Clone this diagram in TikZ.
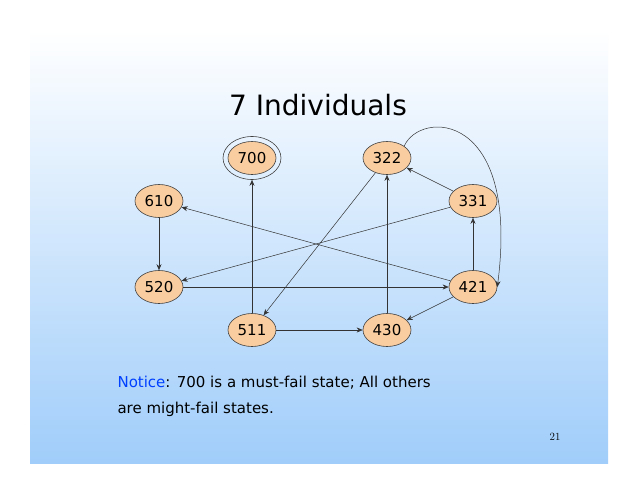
\documentclass[tikz,border=0pt]{standalone}
\usepackage{fontspec}
\setmainfont{DejaVu Sans}
\usetikzlibrary{shapes.geometric,arrows.meta}
\definecolor{bgb}{RGB}{160,205,250}
\definecolor{ncol}{RGB}{250,205,160}
\begin{document}
\begin{tikzpicture}[x=1pt,y=-1pt,
  st/.style={ellipse,draw=black!75,fill=ncol,line width=0.6pt,minimum width=48pt,minimum height=33pt,inner sep=0pt,font=\fontsize{15}{15}\selectfont},
  ar/.style={-{Stealth[length=6pt,width=5pt]},line width=0.5pt,draw=black!80}]
\useasboundingbox (0,0) rectangle (638,493);
\fill[white] (0,0) rectangle (638,493);
\shade[left color=white,right color=bgb,shading angle=0] (30,30) rectangle (608,463);
\node[font=\fontsize{28}{28}\selectfont] (title) at (318,105) {7 Individuals};
\node[st] (n700) at (252,158) {700};
\node[ellipse,draw=black!75,line width=0.6pt,minimum width=58pt,minimum height=43pt] (o700) at (252,158) {};
\node[st] (n322) at (387,158) {322};
\node[st] (n610) at (159,201) {610};
\node[st] (n331) at (473,201) {331};
\node[st] (n520) at (159,287) {520};
\node[st] (n421) at (473,287) {421};
\node[st] (n511) at (252,330) {511};
\node[st] (n430) at (387,330) {430};
\draw[ar] (n511) -- (o700);
\draw[ar] (n322) -- (n511);
\draw[ar] (n430) -- (n322);
\draw[ar] (n331) -- (n322);
\draw[ar] (n331) -- (n520);
\draw[ar] (n421) -- (n610);
\draw[ar] (n610) -- (n520);
\draw[ar] (n520) -- (n421);
\draw[ar] (n421) -- (n331);
\draw[ar] (n421) -- (n430);
\draw[ar] (n511) -- (n430);
\draw[ar] (n322.north east) .. controls (420,110) and (520,110) .. (n421.east);
\node[anchor=west,align=left,font=\fontsize{15}{26}\selectfont] (note) at (114,396) {\textcolor{blue!75!cyan}{Notice}: 700 is a must-fail state; All others\\are might-fail states.};
\node[font=\fontfamily{lmr}\fontsize{11}{11}\selectfont] (pg) at (555,437) {21};
\end{tikzpicture}
\end{document}
